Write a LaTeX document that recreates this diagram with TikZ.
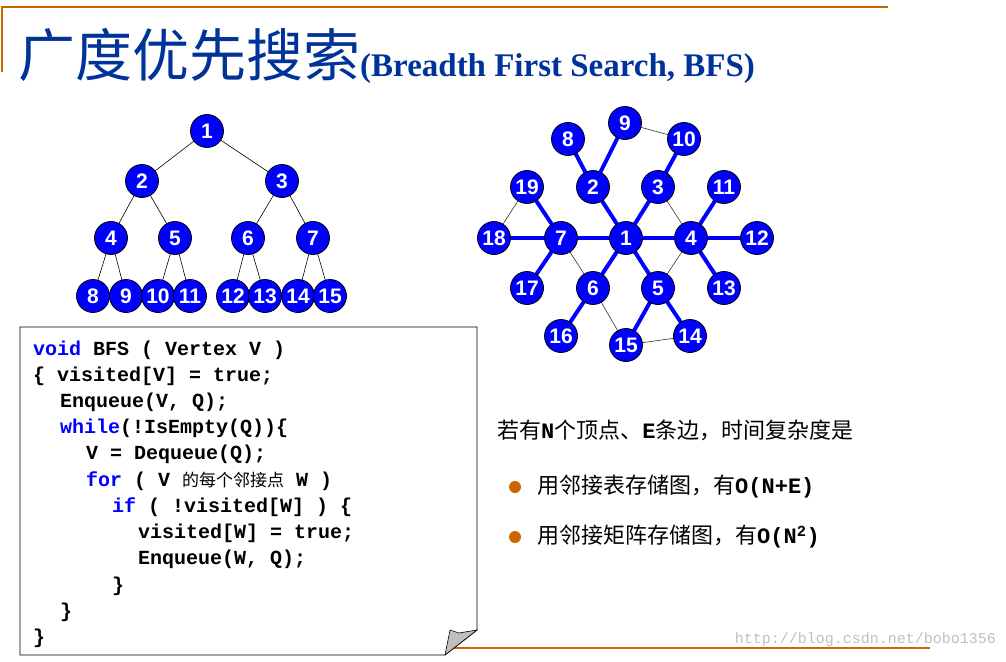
\documentclass[tikz,border=0pt]{standalone}
\usepackage{fontspec}
\setmainfont{Liberation Serif}
\setsansfont{Liberation Sans}
\setmonofont{Liberation Mono}
\newfontfamily\cjk{Noto Sans CJK SC}
\begin{document}
\begin{tikzpicture}[x=1pt,y=-1pt,
  vx/.style={circle,fill=blue,draw=black,line width=0.8pt,minimum size=33pt,inner sep=0pt,text=white,font=\sffamily\bfseries\fontsize{21}{21}\selectfont},
  tree/.style={draw=black,line width=0.6pt},
  thick/.style={draw=blue,line width=4pt},
  thin/.style={draw=black!80,line width=0.6pt},
  code/.style={anchor=west,inner sep=0pt,font=\ttfamily\bfseries\fontsize{20}{20}\selectfont},
  txt/.style={anchor=west,inner sep=0pt,font=\fontsize{22}{22}\selectfont}]
\useasboundingbox (0,0) rectangle (1006,661);
\definecolor{ttl}{RGB}{0,51,153}
\definecolor{org}{RGB}{204,102,0}
\draw[org,line width=1.5pt] (2,72) -- (2,7) -- (888,7);
\draw[org,line width=2pt] (230,648) -- (930,648);
\node[anchor=west,inner sep=0pt,text=ttl] (title) at (18,56) {\cjk\fontsize{57}{57}\selectfont 广度优先搜索\fontspec{Liberation Serif}\bfseries\fontsize{33}{33}\selectfont(Breadth First Search, BFS)};
\node[anchor=east,inner sep=0pt,text=black!25,font=\ttfamily\fontsize{15}{15}\selectfont] (wm) at (996,640) {http://blog.csdn.net/bobo1356};
% left tree
\foreach \n/\x/\y in {1/207/131,2/142/181,3/282/181,4/111/238,5/175/238,6/248/238,7/313/238,8/93/296,9/126/296,10/158/296,11/190/296,12/233/296,13/265/296,14/298/296,15/330/296}
  \coordinate (t\n) at (\x,\y);
\foreach \a/\b in {1/2,1/3,2/4,2/5,3/6,3/7,4/8,4/9,5/10,5/11,6/12,6/13,7/14,7/15}
  \draw[tree] (t\a) -- (t\b);
\foreach \n in {1,...,15} \node[vx] (T\n) at (t\n) {\n};
% right graph
\foreach \n/\x/\y in {1/626/238,2/593/187,3/658/187,4/691/238,5/658/288,6/593/288,7/561/238,8/568/139,9/625/123,10/684/139,11/724/187,12/757/238,13/724/288,14/690/336,15/626/345,16/561/336,17/527/288,18/494/238,19/527/187}
  \coordinate (g\n) at (\x,\y);
\foreach \a/\b in {9/10,18/19,3/4,4/5,7/6,6/15,15/14}
  \draw[thin] (g\a) -- (g\b);
\foreach \a/\b in {1/2,1/3,1/4,1/5,1/6,1/7,2/8,2/9,3/10,4/11,4/12,4/13,5/14,5/15,6/16,7/17,7/18,7/19}
  \draw[thick] (g\a) -- (g\b);
\foreach \n in {1,...,19} \node[vx] (G\n) at (g\n) {\n};
% code box
\draw[fill=white,line width=0.8pt] (20,327) -- (477,327) -- (477,630) -- (445,655) -- (20,655) -- cycle;
\draw[fill=black!25,line width=0.6pt] (477,630) -- (445,655) -- (450,630) -- (459,633) -- cycle;
\def\kw#1{\textcolor{blue}{#1}}
\node[code] (c1) at (33,350) {\kw{void} BFS ( Vertex V )};
\node[code] (c2) at (33,376) {\{ visited[V] = true;};
\node[code] (c3) at (60,402) {Enqueue(V, Q);};
\node[code] (c4) at (60,428) {\kw{while}(!IsEmpty(Q))\{};
\node[code] (c5) at (86,454) {V = Dequeue(Q);};
\node[code] (c6) at (86,481) {\kw{for} ( V {\cjk\mdseries\fontsize{17}{17}\selectfont 的每个邻接点} W )};
\node[code] (c7) at (112,507) {\kw{if} ( !visited[W] ) \{};
\node[code] (c8) at (138,533) {visited[W] = true;};
\node[code] (c9) at (138,559) {Enqueue(W, Q);};
\node[code] (c10) at (112,586) {\}};
\node[code] (c11) at (60,612) {\}};
\node[code] (c12) at (33,638) {\}};
% right text
\node[txt] (r1) at (497,430) {\cjk 若有\texttt{\bfseries N}个顶点、\texttt{\bfseries E}条边，时间复杂度是};
\fill[org] (515,487) circle (6);
\fill[org] (515,537) circle (6);
\node[txt] (r2) at (537,487) {\cjk 用邻接表存储图，有\texttt{\bfseries O(N+E)}};
\node[txt] (r3) at (537,537) {\cjk 用邻接矩阵存储图，有\texttt{\bfseries O(N\textsuperscript{2})}};
\end{tikzpicture}
\end{document}
